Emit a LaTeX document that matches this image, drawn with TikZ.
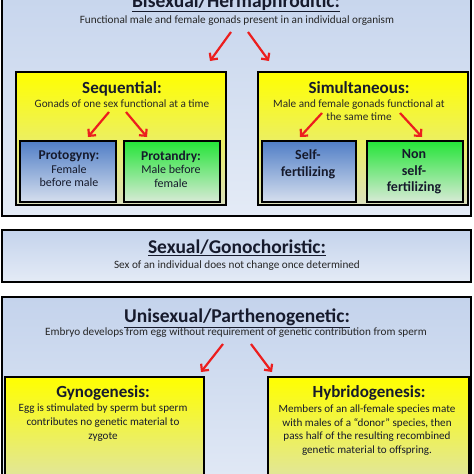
\documentclass[tikz,border=0pt]{standalone}
\usepackage{fontspec}
\setmainfont{Carlito}
\usetikzlibrary{arrows.meta}
\definecolor{outtop}{RGB}{196,211,236}
\definecolor{outbot}{RGB}{228,235,246}
\definecolor{yeltop}{RGB}{255,255,0}
\definecolor{yelbot}{RGB}{218,224,190}
\definecolor{blutop}{RGB}{80,126,198}
\definecolor{blubot}{RGB}{214,223,238}
\definecolor{grntop}{RGB}{36,228,56}
\definecolor{grnbot}{RGB}{216,234,214}
\definecolor{arrowred}{RGB}{236,30,30}
\definecolor{ink}{RGB}{22,26,44}
\tikzset{
  outerbox/.style={draw=black, line width=2.6pt, top color=outtop, bottom color=outbot},
  yelbox/.style={draw=black, line width=2.6pt, top color=yeltop, bottom color=yelbot},
  blubox/.style={draw=black, line width=2.6pt, top color=blutop, bottom color=blubot},
  grnbox/.style={draw=black, line width=2.6pt, top color=grntop, bottom color=grnbot},
  bigtitle/.style={font=\bfseries\fontsize{19.5}{22}\selectfont, text=ink, anchor=base},
  midtitle/.style={font=\bfseries\fontsize{17}{20}\selectfont, text=ink},
  subtext/.style={font=\fontsize{11.2}{13}\selectfont, text=black!85, align=center},
  cell/.style={font=\fontsize{12}{13.5}\selectfont, text=ink, align=center},
  redarrow/.style={draw=arrowred, line width=2.2pt, -{Straight Barb[length=5pt,width=10pt]}},
}
\begin{document}
\begin{tikzpicture}[x=1pt, y=-1pt]
    \useasboundingbox (0,0) rectangle (474,474);
    \clip (0,0) rectangle (474,474);
    \fill[white] (0,0) rectangle (474,474);
    %%%%% BISEXUAL %%%%%

    \draw[outerbox] (2,-30) rectangle (471,216);
    \node[bigtitle] (bistitle) at (236,7) {\underline{Bisexual/Hermaphroditic:}};
    \node[subtext] (bissub) at (237,20.5) {Functional male and female gonads present in an individual organism};

    \draw[yelbox] (16,72) rectangle (226,205);
    \draw[yelbox] (258,72) rectangle (468,205);
    \draw[blubox] (20,141) rectangle (116,202);
    \draw[grnbox] (124,141) rectangle (220,202);
    \draw[blubox] (262,141) rectangle (356,202);
    \draw[grnbox] (367,141) rectangle (463,202);

    \node[midtitle] (seqtitle) at (122,89) {Sequential:};
    \node[subtext] (seqsub) at (122,104) {Gonads of one sex functional at a time};
    \node[midtitle] (simtitle) at (359,88) {Simultaneous:};
    \node[subtext] (simsub) at (359,110.5) {Male and female gonads functional at\\the same time};

    \node[cell] (protogyny) at (69,169) {{\bfseries\fontsize{13.5}{14}\selectfont Protogyny:}\\Female\\before male};
    \node[cell] (protandry) at (171,169) {{\bfseries\fontsize{13.5}{14}\selectfont Protandry:}\\Male before\\female};
    \node[cell, font=\bfseries\fontsize{14}{17}\selectfont] (selffert) at (308,164) {Self-\\fertilizing};
    \node[cell, font=\bfseries\fontsize{14}{16.5}\selectfont] (nonself) at (414,172) {Non\\self-\\fertilizing};

    \coordinate (b1) at (231,32); \coordinate (b1e) at (210,61);
    \coordinate (b2) at (248,32); \coordinate (b2e) at (269,61);
    \coordinate (q1) at (109,112); \coordinate (q1e) at (88,137);
    \coordinate (q2) at (126,112); \coordinate (q2e) at (147,137);
    \coordinate (s1) at (322,113); \coordinate (s1e) at (300,137);
    \coordinate (s2) at (400,113); \coordinate (s2e) at (422,137);
    \draw[redarrow] (b1) -- (b1e);
    \draw[redarrow] (b2) -- (b2e);
    \draw[redarrow] (q1) -- (q1e);
    \draw[redarrow] (q2) -- (q2e);
    \draw[redarrow] (s1) -- (s1e);
    \draw[redarrow] (s2) -- (s2e);

    %%%%% SEXUAL %%%%%

    \draw[outerbox] (2,230) rectangle (471,282);
    \node[bigtitle] (sextitle) at (237,253) {\underline{Sexual/Gonochoristic:}};
    \node[subtext] (sexsub) at (237,266) {Sex of an individual does not change once determined};

    %%%%% UNISEXUAL %%%%%

    \draw[outerbox] (2,297) rectangle (471,500);
    \node[bigtitle] (unititle) at (237,322) {\underline{Unisexual/Parthenogenetic:}};
    \node[subtext] (unisub) at (236,333) {Embryo develops from egg without requirement of genetic contribution from sperm};

    \draw[yelbox] (5,377) rectangle (204,500);
    \draw[yelbox] (268,377) rectangle (469,500);
    \node[midtitle] (gynotitle) at (103,393) {Gynogenesis:};
    \node[cell, font=\fontsize{11.1}{14}\selectfont] (gynotext) at (103,423) {Egg is stimulated by sperm but sperm\\contributes no genetic material to\\zygote};
    \node[midtitle] (hybtitle) at (369,393) {Hybridogenesis:};
    \node[cell, font=\fontsize{11.1}{13.7}\selectfont] (hybtext) at (367,430) {Members of an all-female species mate\\with males of a ``donor'' species, then\\pass half of the resulting recombined\\genetic material to offspring.};

    \coordinate (u1) at (223,344); \coordinate (u1e) at (201,372);
    \coordinate (u2) at (251,344); \coordinate (u2e) at (272,372);
    \draw[redarrow] (u1) -- (u1e);
    \draw[redarrow] (u2) -- (u2e);
\end{tikzpicture}
\end{document}
